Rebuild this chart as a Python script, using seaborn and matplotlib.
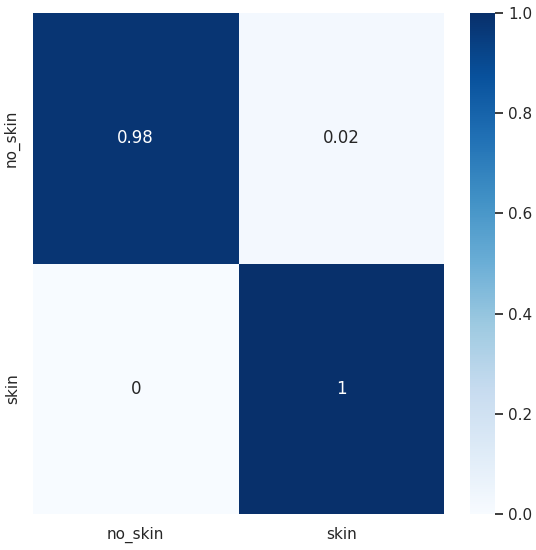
import numpy as np
import pandas as pd
import matplotlib
matplotlib.use("Agg")
import matplotlib.pyplot as plt
import seaborn as sns

labels = ["no_skin", "skin"]
row_no_skin = [0.98, 0.02]
row_skin = [0, 1]

df = pd.DataFrame([row_no_skin, row_skin], index=labels, columns=labels)

sns.set_theme()

fig = plt.figure(figsize=(5.36, 5.5), dpi=100)
W, H = 536, 550
ax = fig.add_axes([33 / W, 1 - 514 / H, (444 - 33) / W, (514 - 13) / H])
cax = fig.add_axes([470 / W, 1 - 514 / H, (495 - 470) / W, (514 - 13) / H])

sns.heatmap(df, annot=True, cmap="Blues", vmin=0, vmax=1, ax=ax, cbar_ax=cax)

fig.savefig("out.png", dpi=100)
